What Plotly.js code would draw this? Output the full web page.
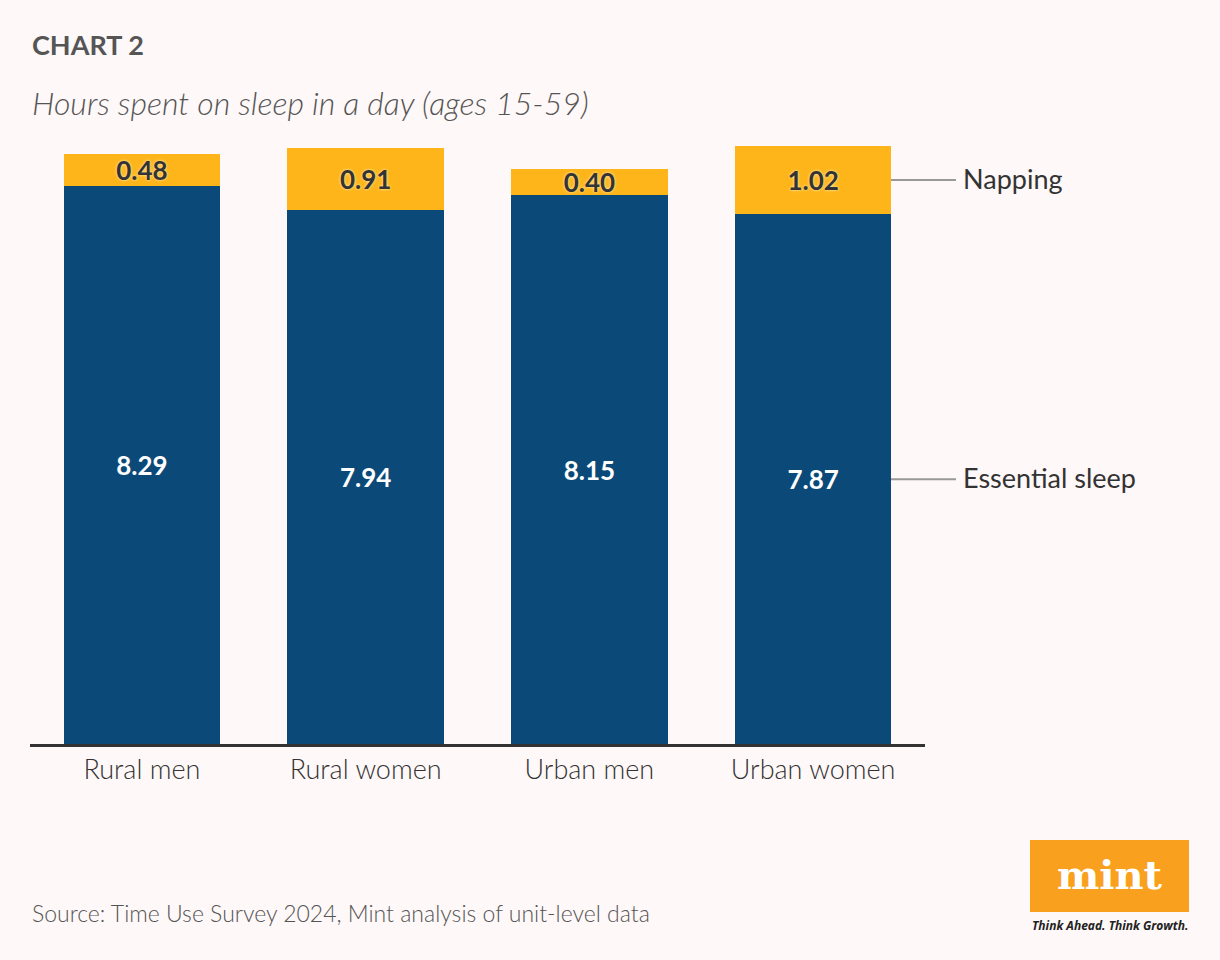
<!DOCTYPE html>
<html>
<head>
<meta charset="utf-8">
<script src="https://cdn.plot.ly/plotly-3.0.1.min.js"></script>
<style>
  html, body { margin: 0; padding: 0; background: #FEF8F8; }
  #chart { width: 1220px; height: 960px; }
</style>
</head>
<body>
<div id="chart"></div>
<script>
// Average hours of sleep per day, people aged 15-59
const groups = ["Rural men", "Rural women", "Urban men", "Urban women"];
const essentialSleep = [8.29, 7.94, 8.15, 7.87];
const napping = [0.48, 0.91, 0.40, 1.02];

const navy = "#0B4A78";
const amber = "#FDB51A";
const bg = "#FEF8F8";

const fmt = v => v.toFixed(2);

const traces = [
  {
    type: "bar",
    name: "Essential sleep",
    x: groups,
    y: essentialSleep,
    text: essentialSleep.map(fmt),
    textposition: "inside",
    insidetextanchor: "middle",
    textangle: 0,
    textfont: { family: "Lato", size: 26, color: "#FFFFFF", weight: 700 },
    marker: { color: navy, line: { width: 0 } },
    hoverinfo: "skip"
  },
  {
    type: "bar",
    name: "Napping",
    x: groups,
    y: napping,
    text: napping.map(fmt),
    textposition: "inside",
    insidetextanchor: "middle",
    textangle: 0,
    constraintext: "none",
    textfont: { family: "Lato", size: 26, color: "#333333", weight: 700,
                shadow: "0 0 3px #FFF3D0" },
    marker: { color: amber, line: { width: 0 } },
    hoverinfo: "skip"
  }
];

// plot area: x 30..925 px, y 130..744 px
const px = x => (x - 30) / 895;
const py = y => (744 - y) / 614;

const last = groups.length - 1;
const essMid = essentialSleep[last] / 2;
const napMid = essentialSleep[last] + napping[last] / 2;

const leader = yv => ({
  type: "line", xref: "paper", yref: "y",
  x0: px(891), x1: px(956), y0: yv, y1: yv,
  line: { color: "#999999", width: 2 }
});

const layout = {
  width: 1220,
  height: 960,
  paper_bgcolor: bg,
  plot_bgcolor: bg,
  barmode: "stack",
  bargap: 0.3,
  showlegend: false,
  margin: { l: 30, r: 295, t: 130, b: 216 },
  xaxis: {
    type: "category",
    range: [-0.5, 3.5],
    showline: true,
    linecolor: "#333333",
    linewidth: 3,
    ticks: "",
    tickfont: { family: "Lato", size: 27, color: "#333333", weight: 300 },
    fixedrange: true
  },
  yaxis: {
    range: [0, 9.123],
    showgrid: false,
    zeroline: false,
    showticklabels: false,
    showline: false,
    fixedrange: true
  },
  shapes: [
    leader(napMid),
    leader(essMid),
    // mint logo block
    { type: "rect", xref: "paper", yref: "paper",
      x0: px(1030), x1: px(1189), y0: py(912), y1: py(840),
      fillcolor: "#F9A11E", line: { width: 0 } }
  ],
  annotations: [
    { xref: "paper", yref: "paper", x: 0, y: py(45),
      xanchor: "left", yanchor: "middle", showarrow: false,
      text: "<b>CHART 2</b>",
      font: { family: "Lato", size: 27, color: "#555555" } },
    { xref: "paper", yref: "paper", x: 0, y: py(103),
      xanchor: "left", yanchor: "middle", showarrow: false,
      text: "<i>Hours spent on sleep in a day (ages 15-59)</i>",
      font: { family: "Lato", size: 32, color: "#555555", weight: 300 } },
    { xref: "paper", yref: "y", x: px(961), y: napMid, yshift: 2,
      xanchor: "left", yanchor: "middle", showarrow: false, text: "Napping",
      font: { family: "Lato", size: 27, color: "#333333" } },
    { xref: "paper", yref: "y", x: px(961), y: essMid, yshift: 2,
      xanchor: "left", yanchor: "middle", showarrow: false, text: "Essential sleep",
      font: { family: "Lato", size: 27, color: "#333333" } },
    { xref: "paper", yref: "paper", x: 0, y: py(913),
      xanchor: "left", yanchor: "middle", showarrow: false,
      text: "Source: Time Use Survey 2024, Mint analysis of unit-level data",
      font: { family: "Lato", size: 23, color: "#555555", weight: 300 } },
    { xref: "paper", yref: "paper", x: px(1109.5), y: py(874),
      xanchor: "center", yanchor: "middle", showarrow: false,
      text: "<b>mint</b>",
      font: { family: "DejaVu Serif", size: 40, color: "#FFFFFF" } },
    { xref: "paper", yref: "paper", x: px(1109.5), y: py(925),
      xanchor: "center", yanchor: "middle", showarrow: false,
      text: "<b><i>Think Ahead. Think Growth.</i></b>",
      font: { family: "Open Sans", size: 12, color: "#222222" } }
  ]
};

Plotly.newPlot("chart", traces, layout, { displayModeBar: false, staticPlot: true });
</script>
</body>
</html>
